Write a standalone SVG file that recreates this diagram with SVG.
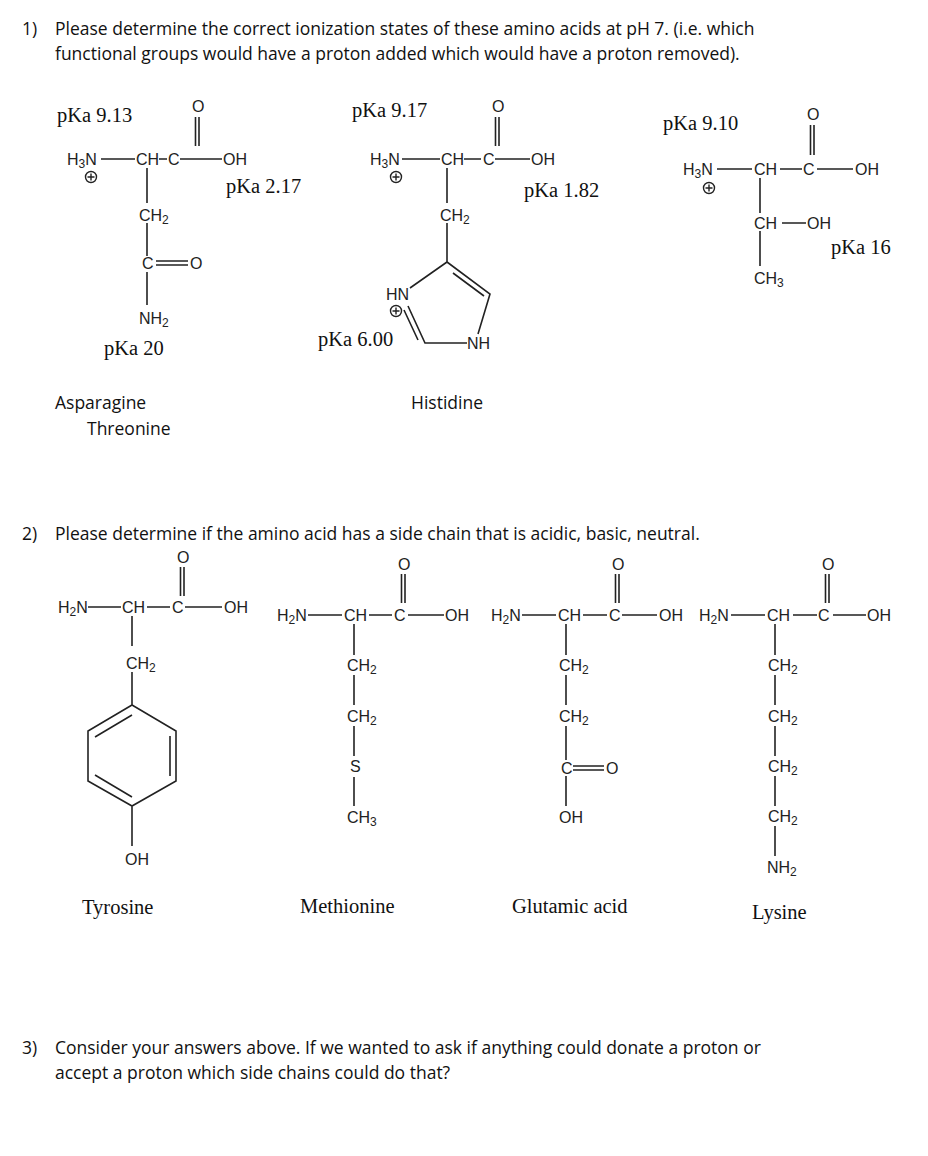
<svg xmlns="http://www.w3.org/2000/svg" width="928" height="1156" viewBox="0 0 928 1156">
<style>
.q{font-family:"Open Sans","Liberation Sans",sans-serif;font-size:17.5px;fill:#111}
.a{font-family:"Liberation Sans",Arial,sans-serif;font-size:16px;fill:#222}
.s{font-size:12px}
.p{font-family:"Liberation Serif","Times New Roman",serif;font-size:20.5px;fill:#111}
.b{stroke:#222;stroke-width:1.6;fill:none}
.pl{fill:none;stroke:#222;stroke-width:1.4}
</style>
<rect width="928" height="1156" fill="#fff"/>
<g id="questions">
<text class="q" x="22" y="35">1)</text><text class="q" x="55" y="35">Please determine the correct ionization states of these amino acids at pH 7. (i.e. which</text>
<text class="q" x="55" y="60">functional groups would have a proton added which would have a proton removed).</text>
<text class="q" x="22" y="540">2)</text><text class="q" x="55" y="540">Please determine if the amino acid has a side chain that is acidic, basic, neutral.</text>
<text class="q" x="22" y="1054">3)</text><text class="q" x="55" y="1054">Consider your answers above. If we wanted to ask if anything could donate a proton or</text>
<text class="q" x="55" y="1079">accept a proton which side chains could do that?</text>
</g>
<g id="asparagine">
<text class="p" x="57" y="122">pKa 9.13</text>
<text class="a" x="192" y="112">O</text>
<path class="b" d="M195.5 117V146M199 117V146M101 159H135M159 159H167M180 159H222M147 168V203M147 223V256M147 272V305M156 261H188M156 265H188"/>
<text class="a" x="67" y="165">H<tspan class="s" dy="3">3</tspan><tspan dy="-3">N</tspan></text>
<g><circle class="pl" cx="91" cy="177" r="5.5"/><path class="pl" d="M87.5 177H94.5M91 173.5V180.5"/></g>
<text class="a" x="136" y="165">CH</text>
<text class="a" x="168" y="165">C</text>
<text class="a" x="223" y="165">OH</text>
<text class="p" x="226" y="193">pKa 2.17</text>
<text class="a" x="139" y="221">CH<tspan class="s" dy="3">2</tspan></text>
<text class="a" x="142" y="269">C</text>
<text class="a" x="190" y="269">O</text>
<text class="a" x="139" y="324">NH<tspan class="s" dy="3">2</tspan></text>
<text class="p" x="104" y="355">pKa 20</text>
</g>
<g id="histidine">
<text class="p" x="352" y="117">pKa 9.17</text>
<text class="a" x="492" y="112">O</text>
<path class="b" d="M495.5 117V146M499 117V146M402 159H440M464 159H481M495 159H530M447 168V203M447 223V262L410 288M447 262L490 294L478 334M453 273L484 296M467 343H425L408 306M418 340L404 310"/>
<text class="a" x="370" y="165">H<tspan class="s" dy="3">3</tspan><tspan dy="-3">N</tspan></text>
<g><circle class="pl" cx="396" cy="177" r="5.5"/><path class="pl" d="M392.5 177H399.5M396 173.5V180.5"/></g>
<text class="a" x="441" y="165">CH</text>
<text class="a" x="483" y="165">C</text>
<text class="a" x="531" y="165">OH</text>
<text class="p" x="524" y="197">pKa 1.82</text>
<text class="a" x="440" y="221">CH<tspan class="s" dy="3">2</tspan></text>
<text class="a" x="386" y="300">HN</text>
<g><circle class="pl" cx="396" cy="311" r="5.5"/><path class="pl" d="M392.5 311H399.5M396 307.5V314.5"/></g>
<text class="a" x="467" y="349">NH</text>
<text class="p" x="318" y="346">pKa 6.00</text>
</g>
<g id="threonine">
<text class="p" x="663" y="130">pKa 9.10</text>
<text class="a" x="807" y="120">O</text>
<path class="b" d="M810.5 125V155M814 125V155M717 169H752M780 169H802M817 169H853M760 178V213M782 223H806M760 231V266"/>
<text class="a" x="683" y="175">H<tspan class="s" dy="3">3</tspan><tspan dy="-3">N</tspan></text>
<g><circle class="pl" cx="709" cy="188" r="5.5"/><path class="pl" d="M705.5 188H712.5M709 184.5V191.5"/></g>
<text class="a" x="754" y="175">CH</text>
<text class="a" x="803" y="175">C</text>
<text class="a" x="855" y="175">OH</text>
<text class="a" x="754" y="229">CH</text>
<text class="a" x="807" y="229">OH</text>
<text class="p" x="831" y="254">pKa 16</text>
<text class="a" x="754" y="284">CH<tspan class="s" dy="3">3</tspan></text>
</g>
<g id="labels1">
<text class="q" x="55" y="409">Asparagine</text>
<text class="q" x="87" y="435">Threonine</text>
<text class="q" x="411" y="409">Histidine</text>
</g>
<g id="tyrosine">
<text class="a" x="177" y="563">O</text>
<path class="b" d="M180.5 567V596M184 567V596M88 607H121M147 607H170M185 607H222M132 616V646M132 672V705L176 731V781L132 806L88 781V731L132 705M95 737L132 715M170 736V776M95 775L132 797M132 806V846"/>
<text class="a" x="58" y="613">H<tspan class="s" dy="3">2</tspan><tspan dy="-3">N</tspan></text>
<text class="a" x="122" y="613">CH</text>
<text class="a" x="172" y="613">C</text>
<text class="a" x="224" y="613">OH</text>
<text class="a" x="126" y="669">CH<tspan class="s" dy="3">2</tspan></text>
<text class="a" x="125" y="865">OH</text>
<text class="p" x="82" y="914">Tyrosine</text>
</g>
<g id="methionine">
<text class="a" x="398" y="570">O</text>
<path class="b" d="M308 615H342M369 615H392M408 615H444M401.5 574V603M405 574V603M354 624V655M354 675V705M354 726V756M354 777V806"/>
<text class="a" x="277" y="621">H<tspan class="s" dy="3">2</tspan><tspan dy="-3">N</tspan></text>
<text class="a" x="344" y="621">CH</text>
<text class="a" x="394" y="621">C</text>
<text class="a" x="445" y="621">OH</text>
<text class="a" x="347" y="671">CH<tspan class="s" dy="3">2</tspan></text>
<text class="a" x="347" y="722">CH<tspan class="s" dy="3">2</tspan></text>
<text class="a" x="350" y="772">S</text>
<text class="a" x="347" y="823">CH<tspan class="s" dy="3">3</tspan></text>
<text class="p" x="300" y="913">Methionine</text>
</g>
<g id="glutamic">
<text class="a" x="612" y="570">O</text>
<path class="b" d="M615.5 574V603M619 574V603M522 615H556M583 615H607M622 615H657M566 624V655M566 675V705M566 726V760M573 766H604M573 770H604M566 776V806"/>
<text class="a" x="491" y="621">H<tspan class="s" dy="3">2</tspan><tspan dy="-3">N</tspan></text>
<text class="a" x="558" y="621">CH</text>
<text class="a" x="609" y="621">C</text>
<text class="a" x="659" y="621">OH</text>
<text class="a" x="559" y="671">CH<tspan class="s" dy="3">2</tspan></text>
<text class="a" x="559" y="722">CH<tspan class="s" dy="3">2</tspan></text>
<text class="a" x="561" y="774">C</text>
<text class="a" x="606" y="774">O</text>
<text class="a" x="559" y="823">OH</text>
<text class="p" x="512" y="913">Glutamic acid</text>
</g>
<g id="lysine">
<text class="a" x="822" y="570">O</text>
<path class="b" d="M825.5 574V603M829 574V603M731 615H765M793 615H817M833 615H866M775 624V655M775 675V705M775 726V756M775 776V806M775 826V856"/>
<text class="a" x="699" y="621">H<tspan class="s" dy="3">2</tspan><tspan dy="-3">N</tspan></text>
<text class="a" x="767" y="621">CH</text>
<text class="a" x="818" y="621">C</text>
<text class="a" x="867" y="621">OH</text>
<text class="a" x="768" y="671">CH<tspan class="s" dy="3">2</tspan></text>
<text class="a" x="768" y="722">CH<tspan class="s" dy="3">2</tspan></text>
<text class="a" x="768" y="772">CH<tspan class="s" dy="3">2</tspan></text>
<text class="a" x="768" y="822">CH<tspan class="s" dy="3">2</tspan></text>
<text class="a" x="767" y="873">NH<tspan class="s" dy="3">2</tspan></text>
<text class="p" x="752" y="919">Lysine</text>
</g>
</svg>
